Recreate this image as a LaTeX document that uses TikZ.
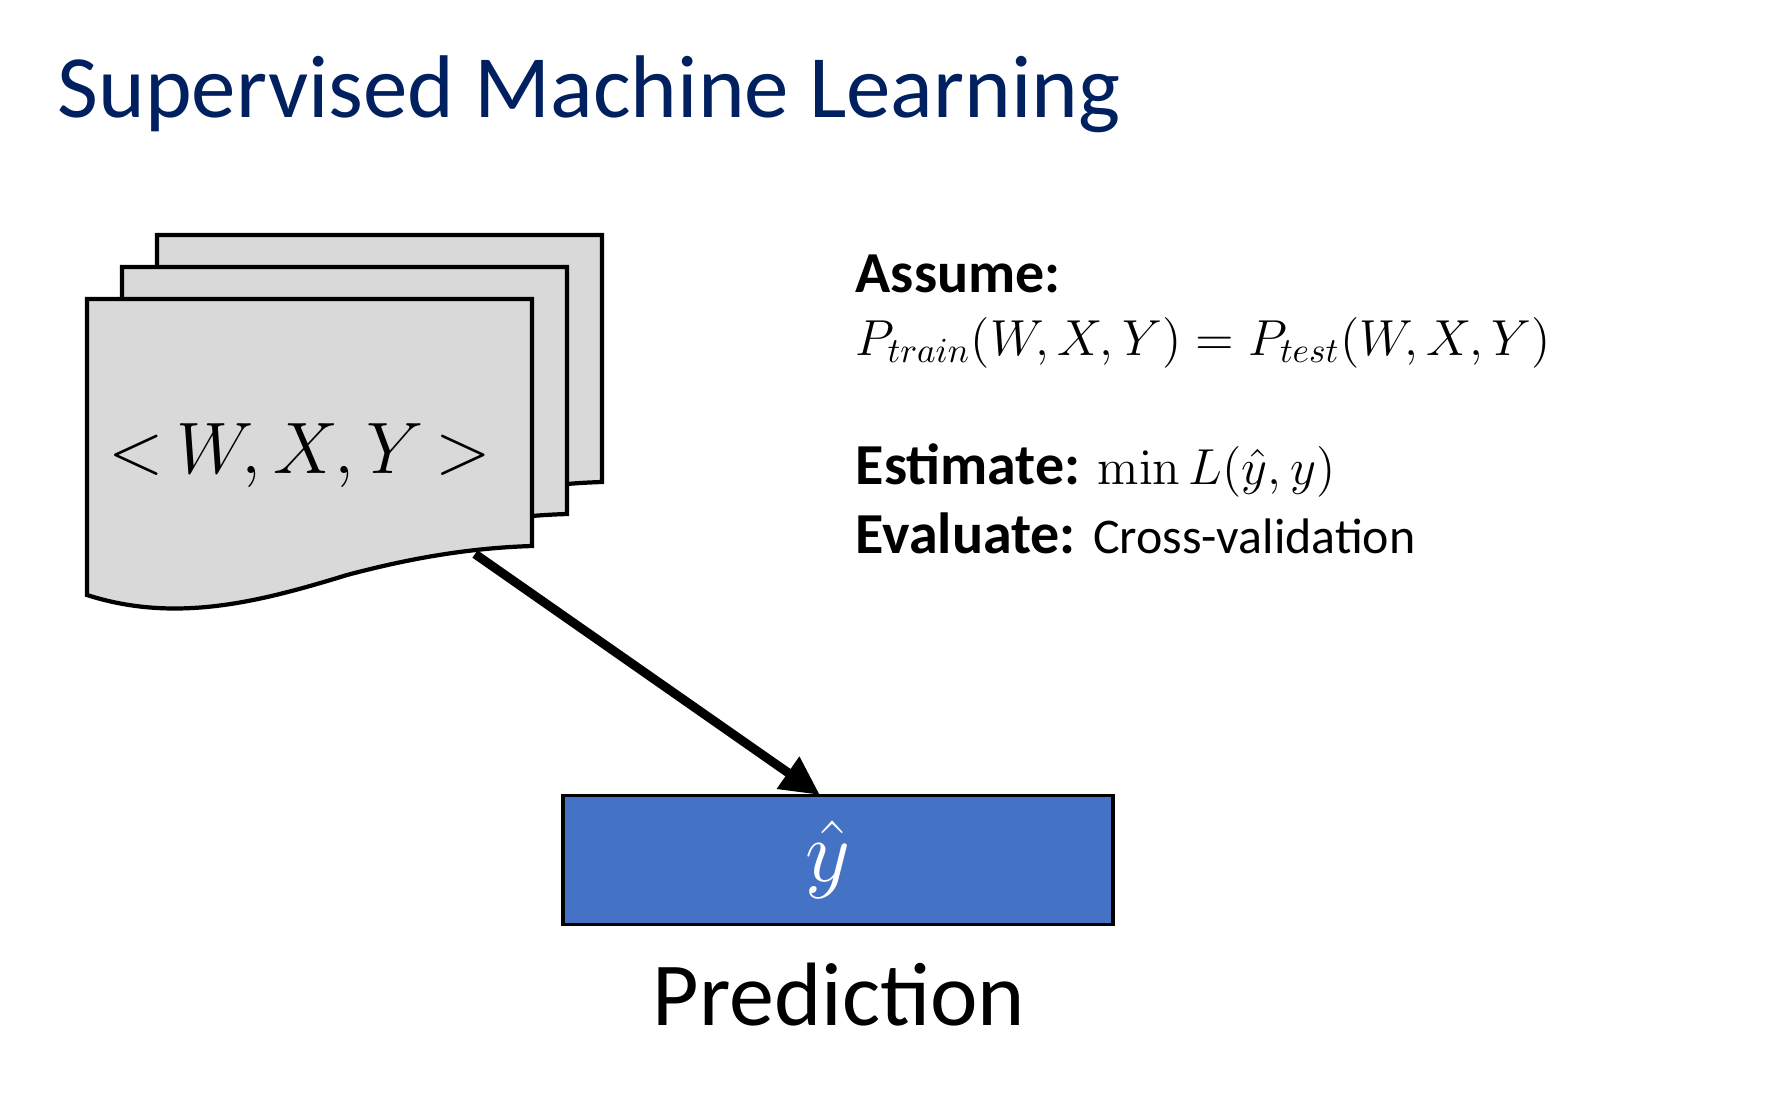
\documentclass[tikz,border=0pt]{standalone}
\usepackage[no-math]{fontspec}
\setmainfont{Carlito}
\usetikzlibrary{arrows.meta, positioning}
\definecolor{titleblue}{RGB}{0,32,96}
\definecolor{boxblue}{RGB}{68,114,196}
\definecolor{sheetgray}{RGB}{217,217,217}
\newcommand{\docsheet}[2]{%
  \begin{scope}[shift={(#1,#2)}]
    \draw[sheet] (0,0) -- (445,0) -- (445,247)
      .. controls (380,249) and (320,260) .. (260,276)
      .. controls (175,302) and (90,325) .. (0,296) -- cycle;
  \end{scope}}

\begin{document}
\begin{tikzpicture}
    [
        x=0.01cm, y=-0.01cm,
        sheet/.style = {draw, fill=sheetgray, line width=1.2pt},
        title/.style = {anchor=base west, inner sep=0pt, text=titleblue, font=\fontsize{25.3}{30}\selectfont},
        note/.style = {anchor=base west, inner sep=0pt, font=\fontsize{16.5}{20}\selectfont},
        small/.style = {font=\fontsize{13.6}{18}\selectfont},
        outbox/.style = {draw, fill=boxblue, line width=1pt, minimum width=5.5cm, minimum height=1.29cm, inner sep=0pt, text=white, font=\fontsize{24}{28}\selectfont},
        flow/.style = {line width=0.09cm, -{Triangle[length=0.39cm, width=0.37cm]}},
    ]
    \useasboundingbox (0,0) rectangle (1765,1105);

    \node[title] (head) at (57,117) {Supervised Machine Learning};

    % stack of data sheets
    \docsheet{157}{235}
    \docsheet{122}{267}
    \docsheet{87}{299}
    \node[font=\fontsize{22.5}{28}\selectfont] (wxy) at (300,456) {$<\mkern-2mu W,X,Y\mkern-2mu>$};

    % notes on the right
    \node[note] (assume) at (855,292) {\textbf{Assume:}};
    \node[note, small] (dist) at (855,355) {$P_{train}(W,X,Y) = P_{test}(W,X,Y)$};
    \node[note] (estimate) at (855,484) {\textbf{Estimate:} {\fontsize{13.8}{18}\selectfont$\min L(\hat{y},y)$}};
    \node[note] (evaluate) at (855,553) {\textbf{Evaluate:} {\fontsize{14.2}{18}\selectfont Cross-validation}};

    % prediction
    \node[outbox] (yhat) at (838,860) {$\hat{y}$\kern0.2cm};
    \node[anchor=base, inner sep=0pt, font=\fontsize{25.6}{30}\selectfont] (pred) at (839,1025) {Prediction};

    \coordinate (src) at (475,554);
    \coordinate (dst) at (820,795);
    \draw[flow] (src) -- (dst);
\end{tikzpicture}
\end{document}
